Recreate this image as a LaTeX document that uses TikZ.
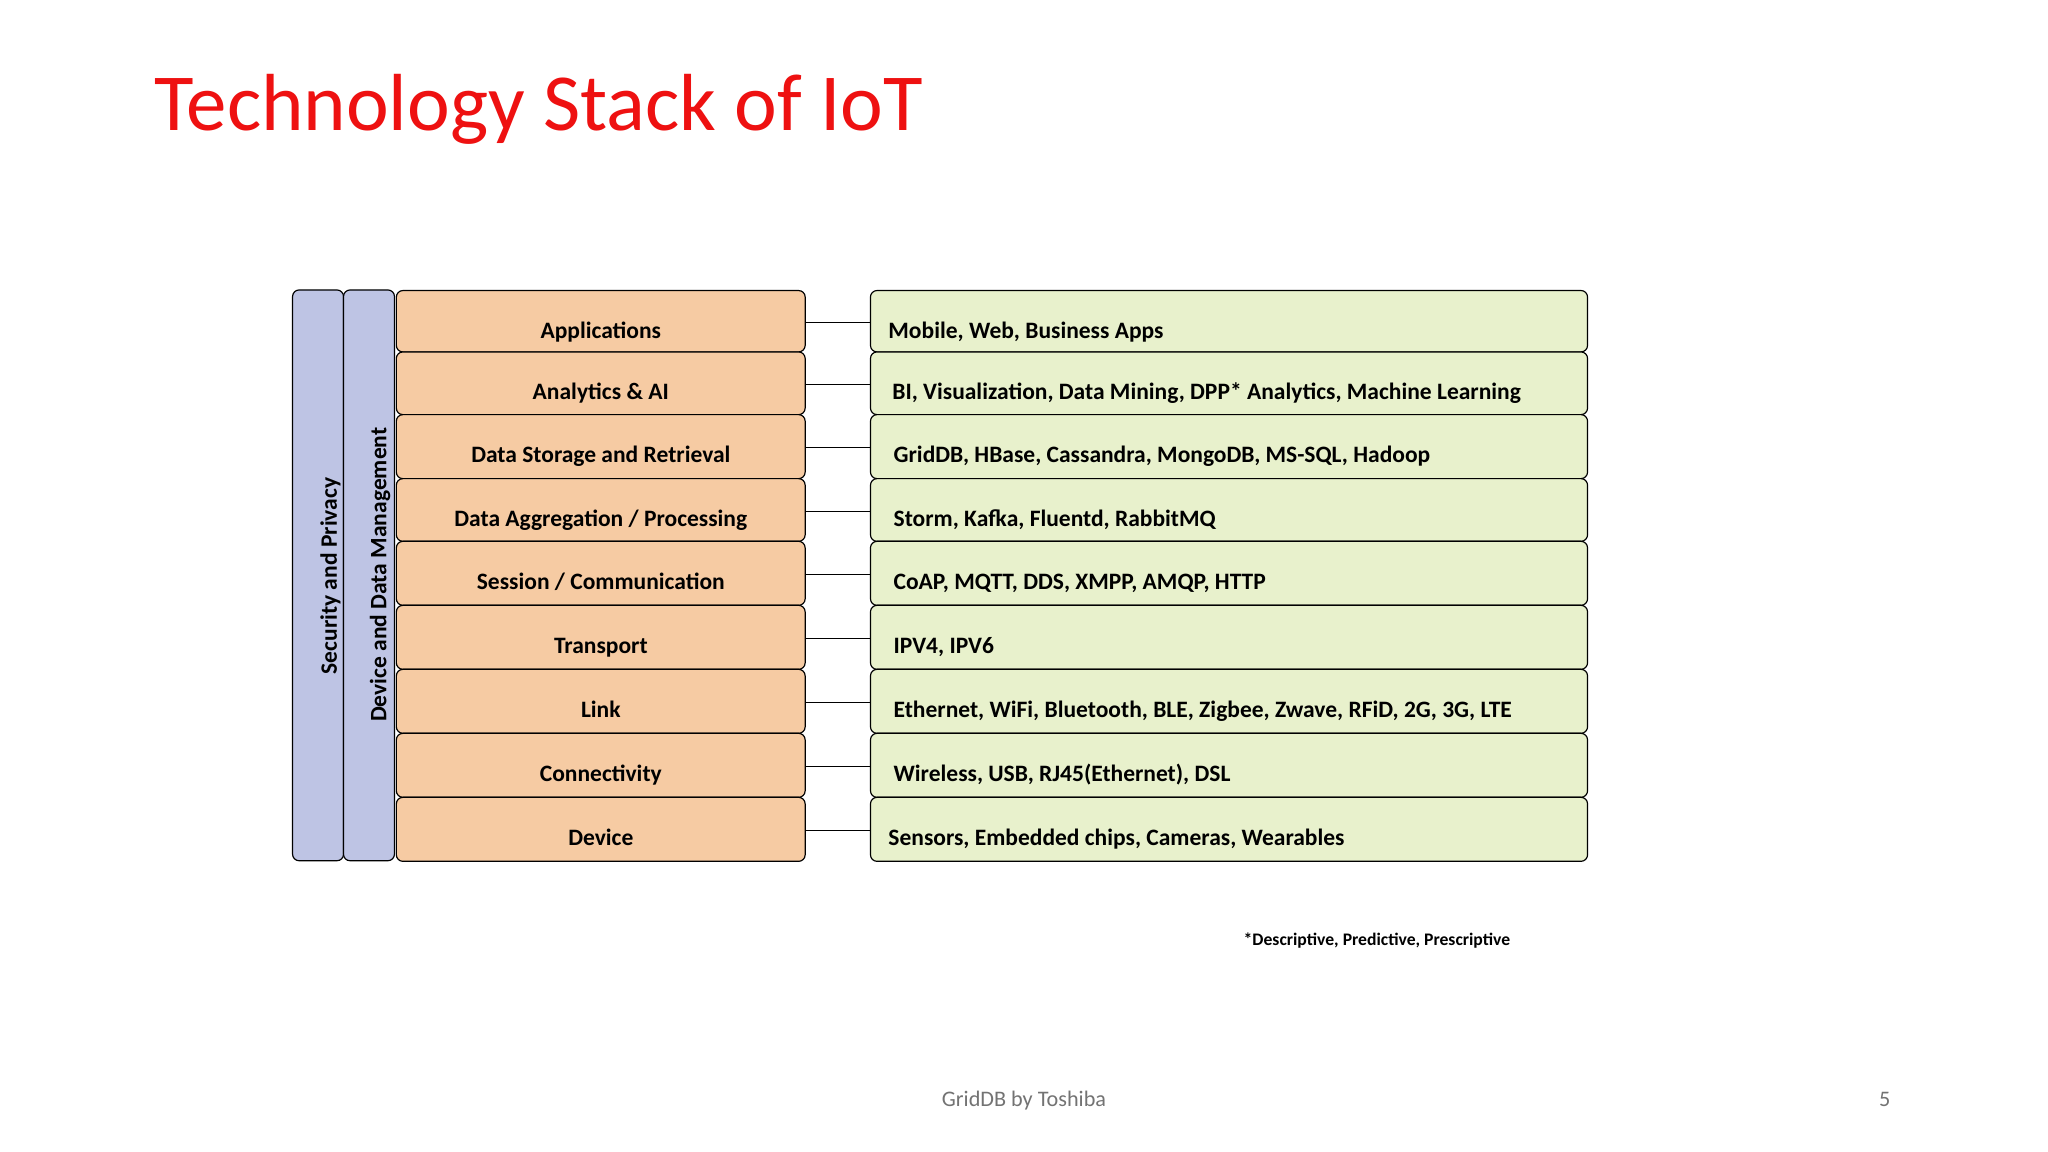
\documentclass[tikz,border=0pt]{standalone}
\usepackage{fontspec}
\setmainfont{Carlito}
\definecolor{orng}{HTML}{F6CBA3}
\definecolor{grn}{HTML}{E8F1CC}
\definecolor{blu}{HTML}{BEC4E4}
\definecolor{ttl}{HTML}{EE1111}
\tikzset{
 layer/.style={draw=black, line width=0.9pt, rounded corners=5pt, fill=orng},
 tech/.style={draw=black, line width=0.9pt, rounded corners=5pt, fill=grn},
 side/.style={draw=black, line width=0.9pt, rounded corners=5pt, fill=blu},
 lbl/.style={font=\fontsize{18}{20}\selectfont\bfseries, anchor=base, inner sep=0pt},
 tlbl/.style={font=\fontsize{18}{20}\selectfont\bfseries, anchor=base west, inner sep=0pt},
 conn/.style={line width=0.7pt, draw=black}
}
\begin{document}
\begin{tikzpicture}[x=1pt,y=-1pt]
\useasboundingbox[fill=white] (0,0) rectangle (1568,882);
\node[anchor=base west, inner sep=0pt, text=ttl, font=\fontsize{62}{66}\selectfont] (title) at (118,100) {Technology Stack of IoT};
\draw[side] (224,222) rectangle (263,659);
\node[rotate=90, font=\fontsize{18}{20}\selectfont\bfseries, inner sep=0pt] (sec) at (253,441) {Security and Privacy};
\draw[side] (263,222) rectangle (302,659);
\node[rotate=90, font=\fontsize{18}{20}\selectfont\bfseries, inner sep=0pt] (dev) at (291,440) {Device and Data Management};
\foreach \i/\t/\b/\a/\g/\gx in {
 1/222/269/{Applications}/{Mobile, Web, Business Apps}/680,
 2/269/317/{Analytics \& AI}/{BI, Visualization, Data Mining, DPP* Analytics, Machine Learning}/683,
 3/317/366/{Data Storage and Retrieval}/{GridDB, HBase, Cassandra, MongoDB, MS-SQL, Hadoop}/684,
 4/366/414/{Data Aggregation {/} Processing}/{Storm, Kafka, Fluentd, RabbitMQ}/684,
 5/414/463/{Session {/} Communication}/{CoAP, MQTT, DDS, XMPP, AMQP, HTTP}/684,
 6/463/512/{Transport}/{IPV4, IPV6}/684,
 7/512/561/{Link}/{Ethernet, WiFi, Bluetooth, BLE, Zigbee, Zwave, RFiD, 2G, 3G, LTE}/684,
 8/561/610/{Connectivity}/{Wireless, USB, RJ45(Ethernet), DSL}/684,
 9/610/659/{Device}/{Sensors, Embedded chips, Cameras, Wearables}/680}{
 \node[layer, minimum width=313pt, minimum height={\b-\t}, anchor=north west] (L\i) at (303,\t) {};
 \node[lbl] (LT\i) at (460,\t+37) {\a};
 \node[tech, minimum width=549pt, minimum height={\b-\t}, anchor=north west] (G\i) at (666,\t) {};
 \node[tlbl] (GT\i) at (\gx,\t+37) {\g};
 \draw[conn] ([yshift=-1pt]L\i.east) -- ([yshift=-1pt]G\i.west);
}
\node[anchor=base west, inner sep=0pt, font=\fontsize{13.5}{15}\selectfont\bfseries] (fn) at (952,724) {*Descriptive, Predictive, Prescriptive};
\node[anchor=base, inner sep=0pt, text=black!55, font=\fontsize{17}{19}\selectfont] (ft) at (784,847) {GridDB by Toshiba};
\node[anchor=base, inner sep=0pt, text=black!55, font=\fontsize{17}{19}\selectfont] (pg) at (1443,847) {5};
\end{tikzpicture}
\end{document}
